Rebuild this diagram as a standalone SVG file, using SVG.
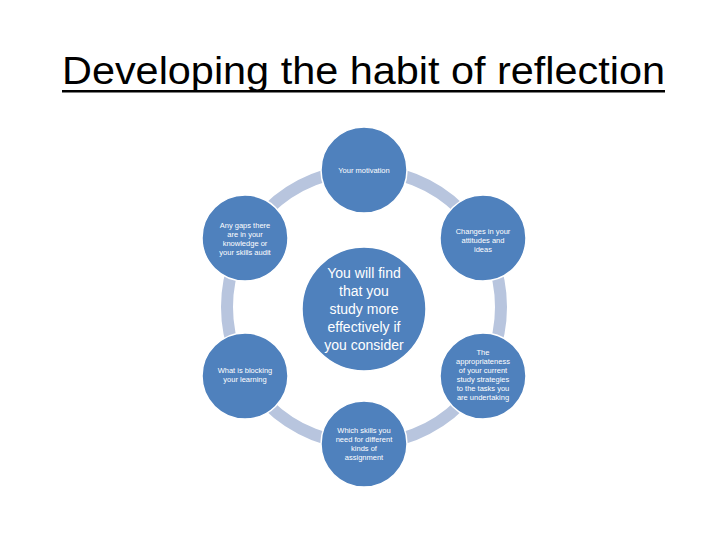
<svg xmlns="http://www.w3.org/2000/svg" width="728" height="546" viewBox="0 0 728 546">
<style>
.n{fill:#4f81bd;stroke:#ffffff;stroke-width:1.5}
.t{font-family:"Liberation Sans",Arial,sans-serif;font-size:7.5px;fill:#ffffff;text-anchor:middle}
.c{font-family:"Liberation Sans",Arial,sans-serif;font-size:14px;fill:#ffffff;text-anchor:middle}
</style>
<rect width="728" height="546" fill="#ffffff"/>
<text x="62" y="84" font-family="Liberation Sans,Arial,sans-serif" font-size="38" fill="#000" textLength="603" lengthAdjust="spacingAndGlyphs">Developing the habit of reflection</text>
<rect x="62" y="90" width="603" height="2.5" fill="#000"/>
<g id="connectors"><circle cx="364" cy="307" r="137" fill="none" stroke="#b8c5de" stroke-width="12"/></g>
<g id="center"><circle class="n" cx="364" cy="309" r="62"/>
<text class="c" x="364" y="278">You will find</text><text class="c" x="364" y="296">that you</text><text class="c" x="364" y="314">study more</text><text class="c" x="364" y="332">effectively if</text><text class="c" x="364" y="350">you consider</text></g>
<g id="n1"><circle class="n" cx="364" cy="170" r="43"/><text class="t" x="364" y="173">Your motivation</text></g>
<g id="n2"><circle class="n" cx="483" cy="238" r="43"/><text class="t" x="483" y="234">Changes in your</text><text class="t" x="483" y="243">attitudes and</text><text class="t" x="483" y="252">ideas</text></g>
<g id="n3"><circle class="n" cx="483" cy="376" r="43"/><text class="t" x="483" y="355">The</text><text class="t" x="483" y="364">appropriateness</text><text class="t" x="483" y="373">of your current</text><text class="t" x="483" y="382">study strategies</text><text class="t" x="483" y="391">to the tasks you</text><text class="t" x="483" y="400">are undertaking</text></g>
<g id="n4"><circle class="n" cx="364" cy="444" r="43"/><text class="t" x="364" y="433">Which skills you</text><text class="t" x="364" y="442">need for different</text><text class="t" x="364" y="451">kinds of</text><text class="t" x="364" y="460">assignment</text></g>
<g id="n5"><circle class="n" cx="245" cy="376" r="43"/><text class="t" x="245" y="373">What is blocking</text><text class="t" x="245" y="382">your learning</text></g>
<g id="n6"><circle class="n" cx="245" cy="238" r="43"/><text class="t" x="245" y="228">Any gaps there</text><text class="t" x="245" y="237">are in your</text><text class="t" x="245" y="246">knowledge or</text><text class="t" x="245" y="255">your skills audit</text></g>
</svg>
